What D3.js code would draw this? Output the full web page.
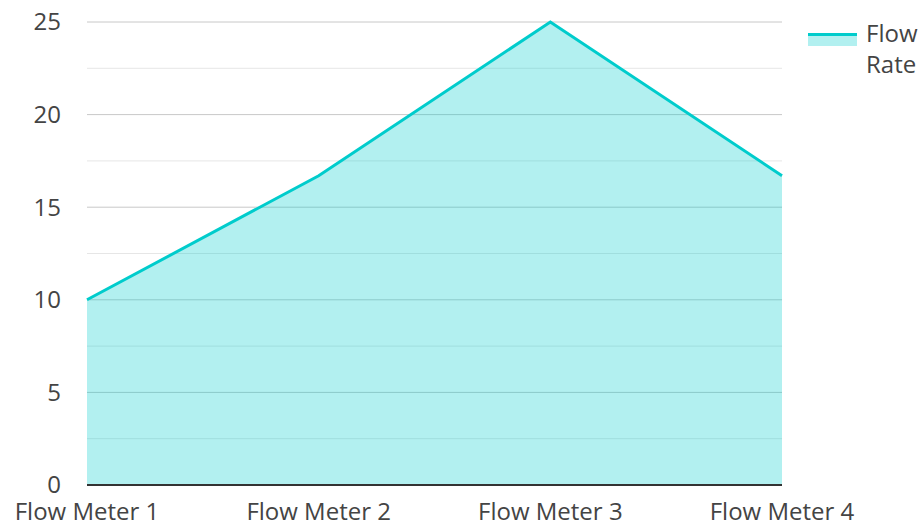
<!DOCTYPE html>
<html><head><meta charset="utf-8">
<script src="https://cdn.jsdelivr.net/npm/d3@7"></script>
<style>body{margin:0;background:#fff}svg{display:block}text{font-family:"Open Sans",sans-serif}</style>
</head><body><svg id="c" width="918" height="524"></svg>
<script>
const categories = ["Flow Meter 1","Flow Meter 2","Flow Meter 3","Flow Meter 4"];
const flowRate = [10, 16.7, 25, 16.7];
const yTicks = [0,5,10,15,20,25];
const minorTicks = [2.5,7.5,12.5,17.5,22.5];
const seriesName = ["Flow","Rate"];

const svg = d3.select("#c");
const m = {l:87, r:782, t:22, b:485};
const x = d3.scalePoint().domain(categories).range([m.l, m.r]);
const y = d3.scaleLinear().domain([0,25]).range([m.b, m.t]);
const col = "rgb(0,204,204)";

const g = svg.append("g");
g.selectAll(".minor").data(minorTicks).join("line")
  .attr("x1",m.l).attr("x2",m.r).attr("y1",d=>y(d)).attr("y2",d=>y(d))
  .attr("stroke","#e6e6e6").attr("stroke-width",1);
g.selectAll(".major").data(yTicks.filter(d=>d>0)).join("line")
  .attr("x1",m.l).attr("x2",m.r).attr("y1",d=>y(d)).attr("y2",d=>y(d))
  .attr("stroke","#c8c8c8").attr("stroke-width",1);

const data = categories.map((c,i)=>({c, v:flowRate[i]}));
svg.append("path").datum(data)
  .attr("d", d3.area().x(d=>x(d.c)).y0(y(0)).y1(d=>y(d.v)))
  .attr("fill", col).attr("fill-opacity",0.3);
svg.append("path").datum(data)
  .attr("d", d3.line().x(d=>x(d.c)).y(d=>y(d.v)))
  .attr("fill","none").attr("stroke",col).attr("stroke-width",3).attr("stroke-linejoin","miter");

svg.append("line").attr("x1",m.l).attr("x2",m.r).attr("y1",y(0)).attr("y2",y(0))
  .attr("stroke","#333").attr("stroke-width",2);

svg.selectAll(".yl").data(yTicks).join("text")
  .attr("x",61).attr("y",d=>y(d)).attr("dy","0.35em").attr("text-anchor","end")
  .attr("font-size",24).attr("fill","#444").text(d=>d);
svg.selectAll(".xl").data(categories).join("text")
  .attr("x",d=>x(d)).attr("y",520).attr("text-anchor","middle")
  .attr("font-size",24).attr("fill","#444").text(d=>d);

// legend
svg.append("rect").attr("x",808).attr("y",33).attr("width",49).attr("height",13).attr("fill",col).attr("fill-opacity",0.3);
svg.append("line").attr("x1",808).attr("x2",857).attr("y1",34.5).attr("y2",34.5).attr("stroke",col).attr("stroke-width",3);
svg.selectAll(".lg").data(seriesName).join("text")
  .attr("x",866).attr("y",(d,i)=>42+i*31).attr("font-size",24).attr("fill","#444").text(d=>d);
</script></body></html>
